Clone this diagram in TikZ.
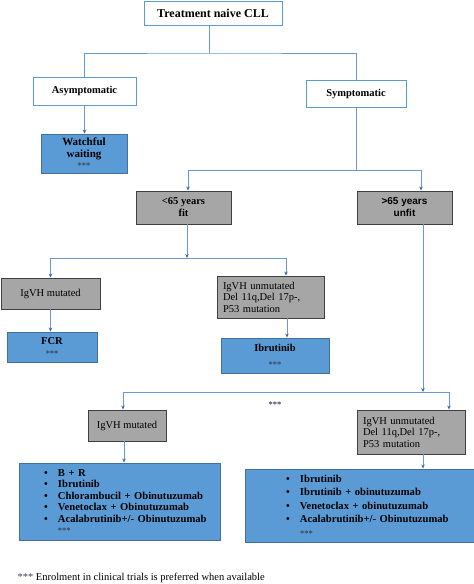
\documentclass[tikz,border=0pt]{standalone}
\usepackage{fontspec}
\setmainfont{Liberation Serif}
\newfontfamily\cllsans{Liberation Sans}
\usetikzlibrary{positioning,arrows.meta}
\definecolor{cllfillblue}{RGB}{91,155,213}
\definecolor{cllborder}{RGB}{65,113,156}
\definecolor{cllfillgrey}{RGB}{166,166,166}
\definecolor{clllink}{RGB}{104,152,212}
\definecolor{clltip}{RGB}{62,104,170}
\definecolor{cllstarcol}{RGB}{60,70,95}
\newcommand{\cllstars}{{\bfseries\color{cllstarcol}\fontsize{8.5}{8.5}\selectfont ***}}
\newcommand{\cllitem}[1]{\makebox[14pt][l]{\textbullet}#1}
\tikzset{
    cllwhite/.style={draw=cllfillblue, line width=1pt, fill=white, align=center, inner sep=2pt, font=\bfseries\fontsize{10.5}{12}\selectfont},
    cllgrey/.style={draw=black!75, line width=0.9pt, fill=cllfillgrey, align=center, inner sep=2pt, font=\fontsize{10.5}{11.5}\selectfont},
    cllblue/.style={draw=cllborder, line width=0.9pt, fill=cllfillblue, align=center, inner sep=2pt, font=\bfseries\fontsize{10.5}{12}\selectfont},
    cllline/.style={draw=clllink, line width=1pt},
    cllarrow/.style={draw=clllink, line width=1pt, -{Stealth[length=4pt,width=3.5pt,color=clltip]}}
}
\begin{document}
\begin{tikzpicture}[x=1pt, y=-1pt]
    \useasboundingbox (0,0) rectangle (474,584);
    % first split
    \node[cllwhite, minimum width=138pt, minimum height=24pt, font=\bfseries\fontsize{12}{13}\selectfont] (root) at (213,13) {Treatment naive CLL};
    \node[cllwhite, minimum width=103pt, minimum height=28pt] (asym) at (84.5,91) {Asymptomatic};
    \node[cllwhite, minimum width=100pt, minimum height=27pt] (sym) at (356,93.5) {Symptomatic};
    \node[cllblue, minimum width=86pt, minimum height=39pt, font=\bfseries\fontsize{11}{11.5}\selectfont] (watch) at (84,153.5) {Watchful\\waiting\\\cllstars};
    % age groups
    \node[cllgrey, minimum width=95pt, minimum height=33pt, font=\bfseries\fontsize{10.5}{12}\selectfont] (young) at (183.5,207.5) {<65 years\\fit};
    \node[cllgrey, minimum width=95pt, minimum height=33pt, font=\cllsans\bfseries\fontsize{10}{12}\selectfont] (old) at (404.5,207.5) {>65 years\\unfit};
    % fit patients
    \node[cllgrey, minimum width=99pt, minimum height=31pt] (mutA) at (50.5,293.5) {IgVH mutated};
    \node[cllgrey, minimum width=107pt, minimum height=42pt, text width=95pt, align=left] (unmutA) at (270.5,297) {IgVH unmutated\\Del 11q,Del 17p-,\\P53 mutation};
    \node[cllblue, minimum width=90pt, minimum height=30pt] (fcr) at (52,347) {FCR\\\cllstars};
    \node[cllblue, minimum width=108pt, minimum height=35pt] (ibr) at (275,355.5) {Ibrutinib\\[4pt]\cllstars};
    % unfit patients
    \node (midstars) at (275,405) {\cllstars};
    \node[cllgrey, minimum width=78pt, minimum height=31pt] (mutB) at (127,425.5) {IgVH mutated};
    \node[cllgrey, minimum width=108pt, minimum height=44pt, text width=96pt, align=left] (unmutB) at (411,432) {IgVH unmutated\\Del 11q,Del 17p-,\\P53 mutation};
    \node[cllblue, minimum width=201pt, minimum height=77pt, text width=193pt, align=left, font=\bfseries\fontsize{10.6}{11.5}\selectfont] (treatB) at (119.5,501.5) {%
        \hspace*{21pt}\cllitem{B + R}\\
        \hspace*{21pt}\cllitem{Ibrutinib}\\
        \hspace*{21pt}\cllitem{Chlorambucil + Obinutuzumab}\\
        \hspace*{21pt}\cllitem{Venetoclax + Obinutuzumab}\\
        \hspace*{21pt}\cllitem{Acalabrutinib+/- Obinutuzumab}\\
        \hspace*{35pt}\cllstars};
    \node[cllblue, minimum width=229pt, minimum height=73pt, text width=221pt, align=left, font=\bfseries\fontsize{10.6}{13.5}\selectfont] (treatC) at (359.5,505.5) {%
        \hspace*{37pt}\cllitem{Ibrutinib}\\
        \hspace*{37pt}\cllitem{Ibrutinib + obinutuzumab}\\
        \hspace*{37pt}\cllitem{Venetoclax + obinutuzumab}\\
        \hspace*{37pt}\cllitem{Acalabrutinib+/- Obinutuzumab}\\
        \hspace*{51pt}\cllstars};
    \node[anchor=west, font=\fontsize{10.5}{12}\selectfont] (footnote) at (14,578) {\textcolor{cllstarcol}{***} Enrolment in clinical trials is preferred when available};

    \coordinate (rootsplit) at (209,53);
    \coordinate (symsplit) at (356,170);
    \coordinate (youngsplit) at (187,258);
    \coordinate (oldsplit) at (423,392);

    \draw[cllline] (root.south -| rootsplit) -- (rootsplit);
    \draw[cllline] (asym.north) |- (rootsplit) -| (sym.north);
    \draw[cllarrow] (asym.south) -- (asym.south |- watch.north);
    \draw[cllline] (sym.south) -- (symsplit);
    \draw[cllarrow] (symsplit) -| ([xshift=4.5pt]young.north);
    \draw[cllarrow] (symsplit) -| ([xshift=16.5pt]old.north);
    \draw[cllarrow] ([xshift=3.5pt]young.south) -- (youngsplit);
    \draw[cllarrow] (youngsplit) -| (mutA.north);
    \draw[cllarrow] (youngsplit) -| ([xshift=15.5pt]unmutA.north);
    \draw[cllarrow] (mutA.south) -- (mutA.south |- fcr.north);
    \draw[cllarrow] ([xshift=16.5pt]unmutA.south) -- ([xshift=16.5pt]unmutA.south |- ibr.north);
    \draw[cllarrow] ([xshift=18.5pt]old.south) -- (oldsplit);
    \draw[cllarrow] (oldsplit) -| ([xshift=-4pt]mutB.north);
    \draw[cllarrow] (oldsplit) -| ([xshift=38pt]unmutB.north);
    \draw[cllarrow] ([xshift=-3pt]mutB.south) -- ([xshift=-3pt]mutB.south |- treatB.north);
    \draw[cllarrow] ([xshift=12pt]unmutB.south) -- ([xshift=12pt]unmutB.south |- treatC.north);
\end{tikzpicture}
\end{document}
